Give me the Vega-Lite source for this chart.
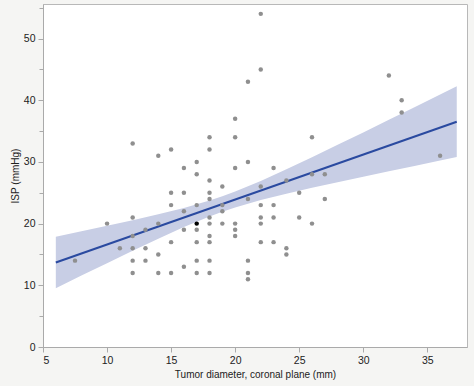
{
  "$schema": "https://vega.github.io/schema/vega-lite/v6.json",
  "width": 424,
  "height": 343,
  "autosize": "none",
  "padding": {"left": 43, "top": 4, "right": 7, "bottom": 39},
  "background": "#f5f5f3",
  "config": {
    "view": {"fill": "white", "stroke": "#b8b8b8", "strokeWidth": 1},
    "axis": {
      "labelFont": "Liberation Sans",
      "titleFont": "Liberation Sans",
      "labelFontSize": 10.5,
      "titleFontSize": 10,
      "titleFontWeight": "normal",
      "labelColor": "#222",
      "titleColor": "#222",
      "domainColor": "#aaaaaa",
      "tickColor": "#aaaaaa",
      "grid": false,
      "tickSize": 5
    }
  },
  "datasets": {
    "band": [
      {"x": 6.0, "lo": 9.53, "hi": 17.87},
      {"x": 8, "lo": 11.57, "hi": 18.75},
      {"x": 10, "lo": 13.59, "hi": 19.65},
      {"x": 12, "lo": 15.6, "hi": 20.56},
      {"x": 14, "lo": 17.56, "hi": 21.52},
      {"x": 16, "lo": 19.44, "hi": 22.54},
      {"x": 18, "lo": 21.16, "hi": 23.74},
      {"x": 19, "lo": 21.93, "hi": 24.43},
      {"x": 20, "lo": 22.62, "hi": 25.2},
      {"x": 22, "lo": 23.82, "hi": 26.92},
      {"x": 24, "lo": 24.85, "hi": 28.81},
      {"x": 26, "lo": 25.81, "hi": 30.77},
      {"x": 28, "lo": 26.71, "hi": 32.77},
      {"x": 30, "lo": 27.61, "hi": 34.79},
      {"x": 32, "lo": 28.49, "hi": 36.83},
      {"x": 34, "lo": 29.36, "hi": 38.88},
      {"x": 36, "lo": 30.22, "hi": 40.92},
      {"x": 37.3, "lo": 30.78, "hi": 42.26}
    ],
    "fit": [
      {"x": 6.0, "y": 13.7},
      {"x": 37.3, "y": 36.52}
    ],
    "pts": [
      {"d": 7.5, "isp": 14, "h": "n"},
      {"d": 10, "isp": 20, "h": "n"},
      {"d": 11, "isp": 16, "h": "n"},
      {"d": 12, "isp": 33, "h": "n"},
      {"d": 12, "isp": 21, "h": "n"},
      {"d": 12, "isp": 18, "h": "n"},
      {"d": 12, "isp": 16, "h": "n"},
      {"d": 12, "isp": 14, "h": "n"},
      {"d": 12, "isp": 12, "h": "n"},
      {"d": 13, "isp": 19, "h": "n"},
      {"d": 13, "isp": 16, "h": "n"},
      {"d": 13, "isp": 14, "h": "n"},
      {"d": 14, "isp": 31, "h": "n"},
      {"d": 14, "isp": 20, "h": "n"},
      {"d": 14, "isp": 15, "h": "n"},
      {"d": 14, "isp": 12, "h": "n"},
      {"d": 15, "isp": 32, "h": "n"},
      {"d": 15, "isp": 25, "h": "n"},
      {"d": 15, "isp": 23, "h": "n"},
      {"d": 15, "isp": 17, "h": "n"},
      {"d": 15, "isp": 12, "h": "n"},
      {"d": 16, "isp": 29, "h": "n"},
      {"d": 16, "isp": 25, "h": "n"},
      {"d": 16, "isp": 22, "h": "n"},
      {"d": 16, "isp": 19, "h": "n"},
      {"d": 16, "isp": 13, "h": "n"},
      {"d": 17, "isp": 30, "h": "n"},
      {"d": 17, "isp": 28, "h": "n"},
      {"d": 17, "isp": 23, "h": "n"},
      {"d": 17, "isp": 19, "h": "n"},
      {"d": 17, "isp": 17, "h": "n"},
      {"d": 17, "isp": 14, "h": "n"},
      {"d": 17, "isp": 12, "h": "n"},
      {"d": 18, "isp": 34, "h": "n"},
      {"d": 18, "isp": 32, "h": "n"},
      {"d": 18, "isp": 27, "h": "n"},
      {"d": 18, "isp": 25, "h": "n"},
      {"d": 18, "isp": 24, "h": "n"},
      {"d": 18, "isp": 21, "h": "n"},
      {"d": 18, "isp": 20, "h": "n"},
      {"d": 18, "isp": 18, "h": "n"},
      {"d": 18, "isp": 17, "h": "n"},
      {"d": 18, "isp": 14, "h": "n"},
      {"d": 18, "isp": 12, "h": "n"},
      {"d": 19, "isp": 26, "h": "n"},
      {"d": 19, "isp": 23, "h": "n"},
      {"d": 19, "isp": 22, "h": "n"},
      {"d": 19, "isp": 20, "h": "n"},
      {"d": 20, "isp": 37, "h": "n"},
      {"d": 20, "isp": 34, "h": "n"},
      {"d": 20, "isp": 29, "h": "n"},
      {"d": 20, "isp": 20, "h": "n"},
      {"d": 20, "isp": 19, "h": "n"},
      {"d": 20, "isp": 18, "h": "n"},
      {"d": 21, "isp": 43, "h": "n"},
      {"d": 21, "isp": 30, "h": "n"},
      {"d": 21, "isp": 24, "h": "n"},
      {"d": 21, "isp": 14, "h": "n"},
      {"d": 21, "isp": 12, "h": "n"},
      {"d": 21, "isp": 11, "h": "n"},
      {"d": 22, "isp": 54, "h": "n"},
      {"d": 22, "isp": 45, "h": "n"},
      {"d": 22, "isp": 26, "h": "n"},
      {"d": 22, "isp": 23, "h": "n"},
      {"d": 22, "isp": 21, "h": "n"},
      {"d": 22, "isp": 20, "h": "n"},
      {"d": 22, "isp": 17, "h": "n"},
      {"d": 23, "isp": 29, "h": "n"},
      {"d": 23, "isp": 23, "h": "n"},
      {"d": 23, "isp": 21, "h": "n"},
      {"d": 23, "isp": 17, "h": "n"},
      {"d": 24, "isp": 27, "h": "n"},
      {"d": 24, "isp": 16, "h": "n"},
      {"d": 24, "isp": 15, "h": "n"},
      {"d": 25, "isp": 25, "h": "n"},
      {"d": 25, "isp": 21, "h": "n"},
      {"d": 26, "isp": 34, "h": "n"},
      {"d": 26, "isp": 28, "h": "n"},
      {"d": 26, "isp": 20, "h": "n"},
      {"d": 27, "isp": 28, "h": "n"},
      {"d": 27, "isp": 24, "h": "n"},
      {"d": 32, "isp": 44, "h": "n"},
      {"d": 33, "isp": 40, "h": "n"},
      {"d": 33, "isp": 38, "h": "n"},
      {"d": 36, "isp": 31, "h": "n"},
      {"d": 17, "isp": 20, "h": "y"}
    ]
  },
  "resolve": {"axis": {"y": "independent"}},
  "layer": [
    {
      "data": {"name": "band"},
      "mark": {"type": "area", "color": "#c8cee5", "opacity": 1},
      "encoding": {
        "x": {"field": "x", "type": "quantitative",
          "scale": {"domain": [5, 38.1], "nice": false, "zero": false},
          "axis": {"values": [5, 10, 15, 20, 25, 30, 35], "title": "Tumor diameter, coronal plane (mm)", "labelPadding": 3, "titlePadding": 4}},
        "y": {"field": "lo", "type": "quantitative",
          "scale": {"domain": [0, 55.6], "nice": false},
          "axis": {"orient": "left", "values": [0, 10, 20, 30, 40, 50], "title": "ISP (mmHg)", "labelPadding": 3, "titlePadding": 3}},
        "y2": {"field": "hi"}
      }
    },
    {
      "data": {"name": "fit"},
      "mark": {"type": "line", "color": "#2a4aa0", "strokeWidth": 2},
      "encoding": {
        "x": {"field": "x", "type": "quantitative"},
        "y": {"field": "y", "type": "quantitative",
          "axis": {"orient": "left", "values": [5, 15, 25, 35, 45, 55], "labels": false, "domain": false, "title": null, "tickSize": 4}}
      }
    },
    {
      "data": {"name": "pts"},
      "mark": {"type": "circle", "size": 20, "opacity": 1},
      "encoding": {
        "x": {"field": "d", "type": "quantitative"},
        "y": {"field": "isp", "type": "quantitative", "axis": null},
        "color": {"field": "h", "type": "nominal", "scale": {"domain": ["n", "y"], "range": ["#8f8f8f", "#000000"]}, "legend": null},
        "order": {"field": "h"}
      }
    }
  ]
}
